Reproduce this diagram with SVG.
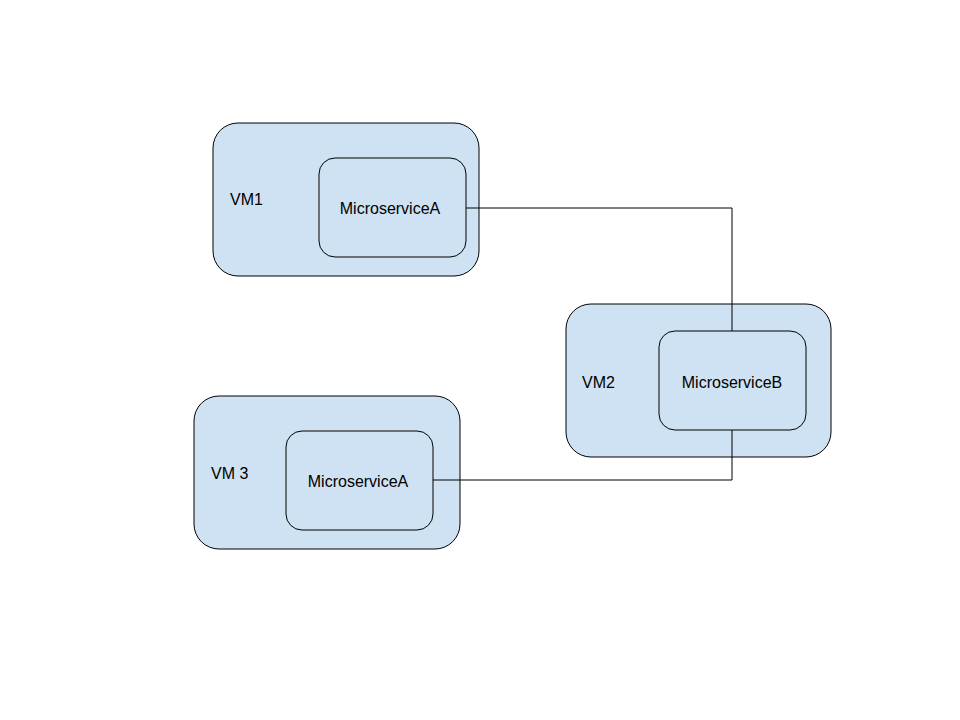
<svg xmlns="http://www.w3.org/2000/svg" width="960" height="720" viewBox="0 0 960 720">
<style>
.vm{fill:#cfe2f3;stroke:#000;stroke-width:1}
.ms{fill:#cfe2f3;stroke:#000;stroke-width:1}
text{font-family:"Liberation Sans",Arial,sans-serif;font-size:16px;fill:#000}
.c{fill:none;stroke:#000;stroke-width:1}
</style>
<rect width="960" height="720" fill="#fff"/>
<g id="vm1"><rect class="vm" x="213" y="123" width="266" height="153" rx="25"/><text x="230" y="205">VM1</text></g>
<g id="msA1"><rect class="ms" x="319" y="158" width="147" height="99" rx="16"/><text x="390" y="214" text-anchor="middle">MicroserviceA</text></g>
<g id="vm2"><rect class="vm" x="566" y="304" width="265" height="153" rx="25"/><text x="582" y="388">VM2</text></g>
<g id="msB"><rect class="ms" x="659" y="331" width="147" height="99" rx="16"/><text x="732" y="388" text-anchor="middle">MicroserviceB</text></g>
<g id="vm3"><rect class="vm" x="194" y="396" width="266" height="153" rx="25"/><text x="211" y="479">VM 3</text></g>
<g id="msA3"><rect class="ms" x="286" y="431" width="147" height="99" rx="16"/><text x="358" y="487" text-anchor="middle">MicroserviceA</text></g>
<g id="connectors">
<path class="c" d="M466 208H732V331"/>
<path class="c" d="M433 480H732V430"/>
</g>
</svg>
